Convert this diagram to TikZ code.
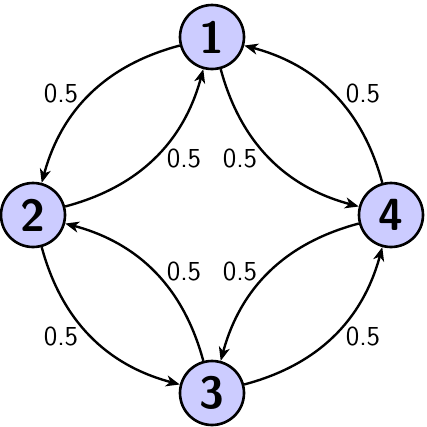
\documentclass[tikz,border=0pt]{standalone}
\usetikzlibrary{arrows.meta}
\definecolor{nodefill}{RGB}{204,204,255}
\begin{document}
\begin{tikzpicture}[x=0.4pt,y=0.4pt,
  state/.style={circle,draw=black,fill=nodefill,line width=1.05pt,minimum size=25.6pt,inner sep=0pt,font=\fontsize{18}{20}\selectfont\sffamily\bfseries},
  trans/.style={-{Stealth[length=5.5pt,width=4.4pt,inset=1.6pt]},line width=0.95pt,bend right=30},
  lbl/.style={font=\fontsize{11}{13}\selectfont\sffamily,inner sep=4.5pt}]
\useasboundingbox (0,0) rectangle (427,-427);
\node[state] (n1) at (212,-37) {1};
\node[state] (n2) at (33,-215) {2};
\node[state] (n3) at (212,-393) {3};
\node[state] (n4) at (391,-215) {4};
\draw[trans] (n1) to node[lbl,left] {0.5} (n2);
\draw[trans] (n2) to node[lbl,right] {0.5} (n1);
\draw[trans] (n1) to node[lbl,left] {0.5} (n4);
\draw[trans] (n4) to node[lbl,right] {0.5} (n1);
\draw[trans] (n2) to node[lbl,left] {0.5} (n3);
\draw[trans] (n3) to node[lbl,right] {0.5} (n2);
\draw[trans] (n3) to node[lbl,right] {0.5} (n4);
\draw[trans] (n4) to node[lbl,left] {0.5} (n3);
\end{tikzpicture}
\end{document}
